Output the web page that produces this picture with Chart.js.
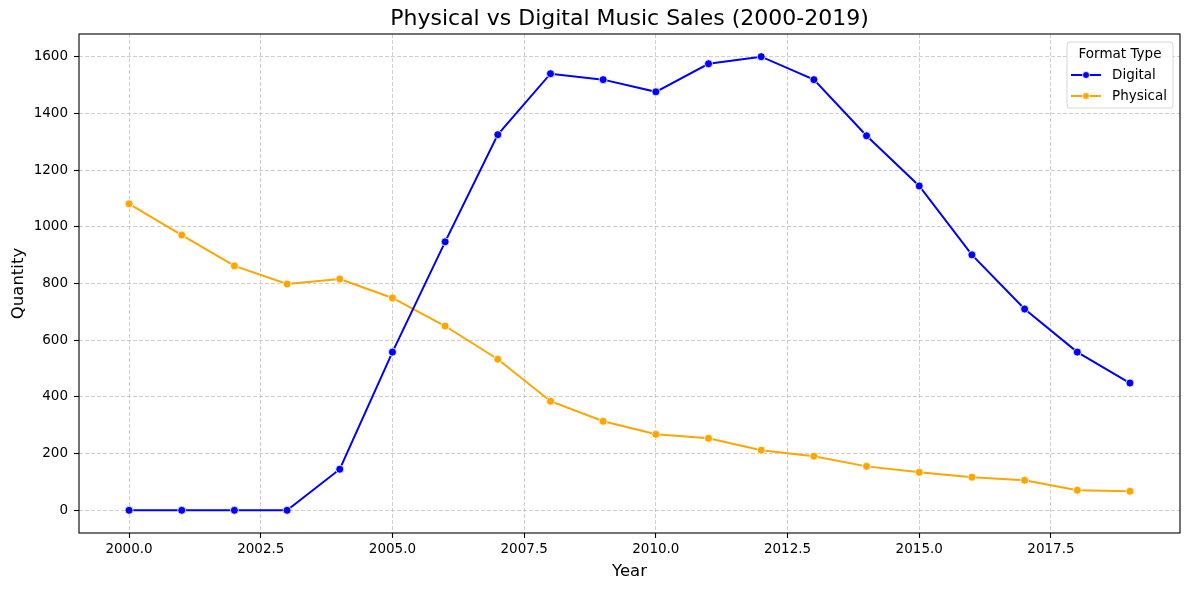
<!DOCTYPE html>
<html>
<head>
<meta charset="utf-8">
<title>Physical vs Digital Music Sales</title>
<script src="https://cdn.jsdelivr.net/npm/chart.js@4.4.1/dist/chart.umd.min.js"></script>
<style>
    html, body { margin: 0; padding: 0; background: #fff; }
    #wrap { width: 1190px; height: 590px; position: relative; }
</style>
</head>
<body>
<div id="wrap"><canvas id="sales"></canvas></div>
<script>
// values
const years = [2000, 2001, 2002, 2003, 2004, 2005, 2006, 2007, 2008, 2009,
    2010, 2011, 2012, 2013, 2014, 2015, 2016, 2017, 2018, 2019];
const digital = [0, 0, 0, 0, 145, 558, 947, 1325, 1540, 1519,
    1476, 1575, 1600, 1519, 1321, 1144, 901, 710, 558, 449];
const physical = [1081, 971, 862, 798, 816, 749, 650, 533, 385, 314,
    268, 254, 212, 191, 155, 134, 117, 106, 71, 67];
const xTicks = [2000, 2002.5, 2005, 2007.5, 2010, 2012.5, 2015, 2017.5];
const yTicks = [0, 200, 400, 600, 800, 1000, 1200, 1400, 1600];
const chartTitle = 'Physical vs Digital Music Sales (2000-2019)';

const fontFamily = '"DejaVu Sans", sans-serif';

function toPoints(values) {
    return years.map((year, i) => ({x: year, y: values[i]}));
}

// matplotlib style box round the plot area, title centred over the axes
const frame = {
    id: 'frame',
    afterDatasetsDraw(chart) {
        const {ctx, chartArea: a} = chart;
        ctx.save();
        ctx.strokeStyle = '#000';
        ctx.lineWidth = 1.1;
        ctx.strokeRect(a.left, a.top, a.right - a.left, a.bottom - a.top);

        ctx.fillStyle = '#000';
        ctx.font = '22px ' + fontFamily;
        ctx.textAlign = 'center';
        ctx.textBaseline = 'middle';
        ctx.fillText(chartTitle, (a.left + a.right) / 2, a.top - 15);
        ctx.restore();
    }
};

// legend sits inside the axes, upper right
const boxLegend = {
    id: 'boxLegend',
    afterDraw(chart) {
        const {ctx, chartArea: a} = chart;
        const w = 106, h = 66;
        const x = a.right - 7 - w;
        const y = a.top + 8;
        ctx.save();
        ctx.beginPath();
        ctx.roundRect(x, y, w, h, 3);
        ctx.fillStyle = 'rgba(255,255,255,0.8)';
        ctx.fill();
        ctx.strokeStyle = '#d6d6d6';
        ctx.lineWidth = 1;
        ctx.stroke();

        ctx.fillStyle = '#000';
        ctx.font = '13.5px ' + fontFamily;
        ctx.textAlign = 'center';
        ctx.textBaseline = 'middle';
        ctx.fillText('Format Type', x + w / 2, y + 12);

        chart.data.datasets.forEach((ds, i) => {
            const rowY = y + 33 + i * 21;
            ctx.strokeStyle = ds.borderColor;
            ctx.lineWidth = 2;
            ctx.beginPath();
            ctx.moveTo(x + 4, rowY);
            ctx.lineTo(x + 34, rowY);
            ctx.stroke();
            ctx.beginPath();
            ctx.arc(x + 19, rowY, 3.5, 0, Math.PI * 2);
            ctx.fillStyle = ds.borderColor;
            ctx.fill();
            ctx.strokeStyle = '#fff';
            ctx.lineWidth = 0.8;
            ctx.stroke();
            ctx.fillStyle = '#000';
            ctx.textAlign = 'left';
            ctx.fillText(ds.label, x + 45, rowY);
        });
        ctx.restore();
    }
};

const gridStyle = {
    color: 'rgba(170,170,170,0.55)',
    lineWidth: 1,
    tickLength: 5,
    tickColor: '#000',
    tickWidth: 1.1,
    tickBorderDash: []
};

new Chart(document.getElementById('sales'), {
    type: 'line',
    data: {
        datasets: [
            {
                label: 'Digital',
                data: toPoints(digital),
                borderColor: '#0000ff',
                backgroundColor: '#0000ff',
                pointBackgroundColor: '#0000ff',
                pointBorderColor: '#fff',
                pointBorderWidth: 0.8,
                pointRadius: 4,
                borderWidth: 2
            },
            {
                label: 'Physical',
                data: toPoints(physical),
                borderColor: '#ffa500',
                backgroundColor: '#ffa500',
                pointBackgroundColor: '#ffa500',
                pointBorderColor: '#fff',
                pointBorderWidth: 0.8,
                pointRadius: 4,
                borderWidth: 2
            }
        ]
    },
    options: {
        responsive: true,
        maintainAspectRatio: false,
        animation: false,
        events: [],
        layout: { padding: { left: 0, right: 10, top: 34, bottom: 0 } },
        plugins: {
            legend: { display: false },
            tooltip: { enabled: false },
            title: { display: false }
        },
        scales: {
            x: {
                type: 'linear',
                min: 1999.05,
                max: 2019.95,
                afterBuildTicks(scale) {
                    scale.ticks = xTicks.map(v => ({value: v}));
                },
                afterFit(scale) { scale.height = 57; },
                ticks: {
                    color: '#000',
                    padding: 3,
                    maxRotation: 0,
                    autoSkip: false,
                    font: { family: fontFamily, size: 13.5 },
                    callback: v => Number(v).toFixed(1)
                },
                grid: gridStyle,
                border: { display: false, dash: [4, 2] },
                title: {
                    display: true,
                    text: 'Year',
                    color: '#000',
                    font: { family: fontFamily, size: 16.5 },
                    padding: { top: 0, bottom: 8 }
                }
            },
            y: {
                type: 'linear',
                min: -80,
                max: 1680,
                afterBuildTicks(scale) {
                    scale.ticks = yTicks.map(v => ({value: v}));
                },
                afterFit(scale) { scale.width = 79; },
                ticks: {
                    color: '#000',
                    padding: 6,
                    font: { family: fontFamily, size: 13.5 },
                    callback: v => String(v)
                },
                grid: gridStyle,
                border: { display: false, dash: [4, 2] },
                title: {
                    display: true,
                    text: 'Quantity',
                    color: '#000',
                    font: { family: fontFamily, size: 16.5 },
                    padding: { top: 9, bottom: 0 }
                }
            }
        }
    },
    plugins: [frame, boxLegend]
});
</script>
</body>
</html>
